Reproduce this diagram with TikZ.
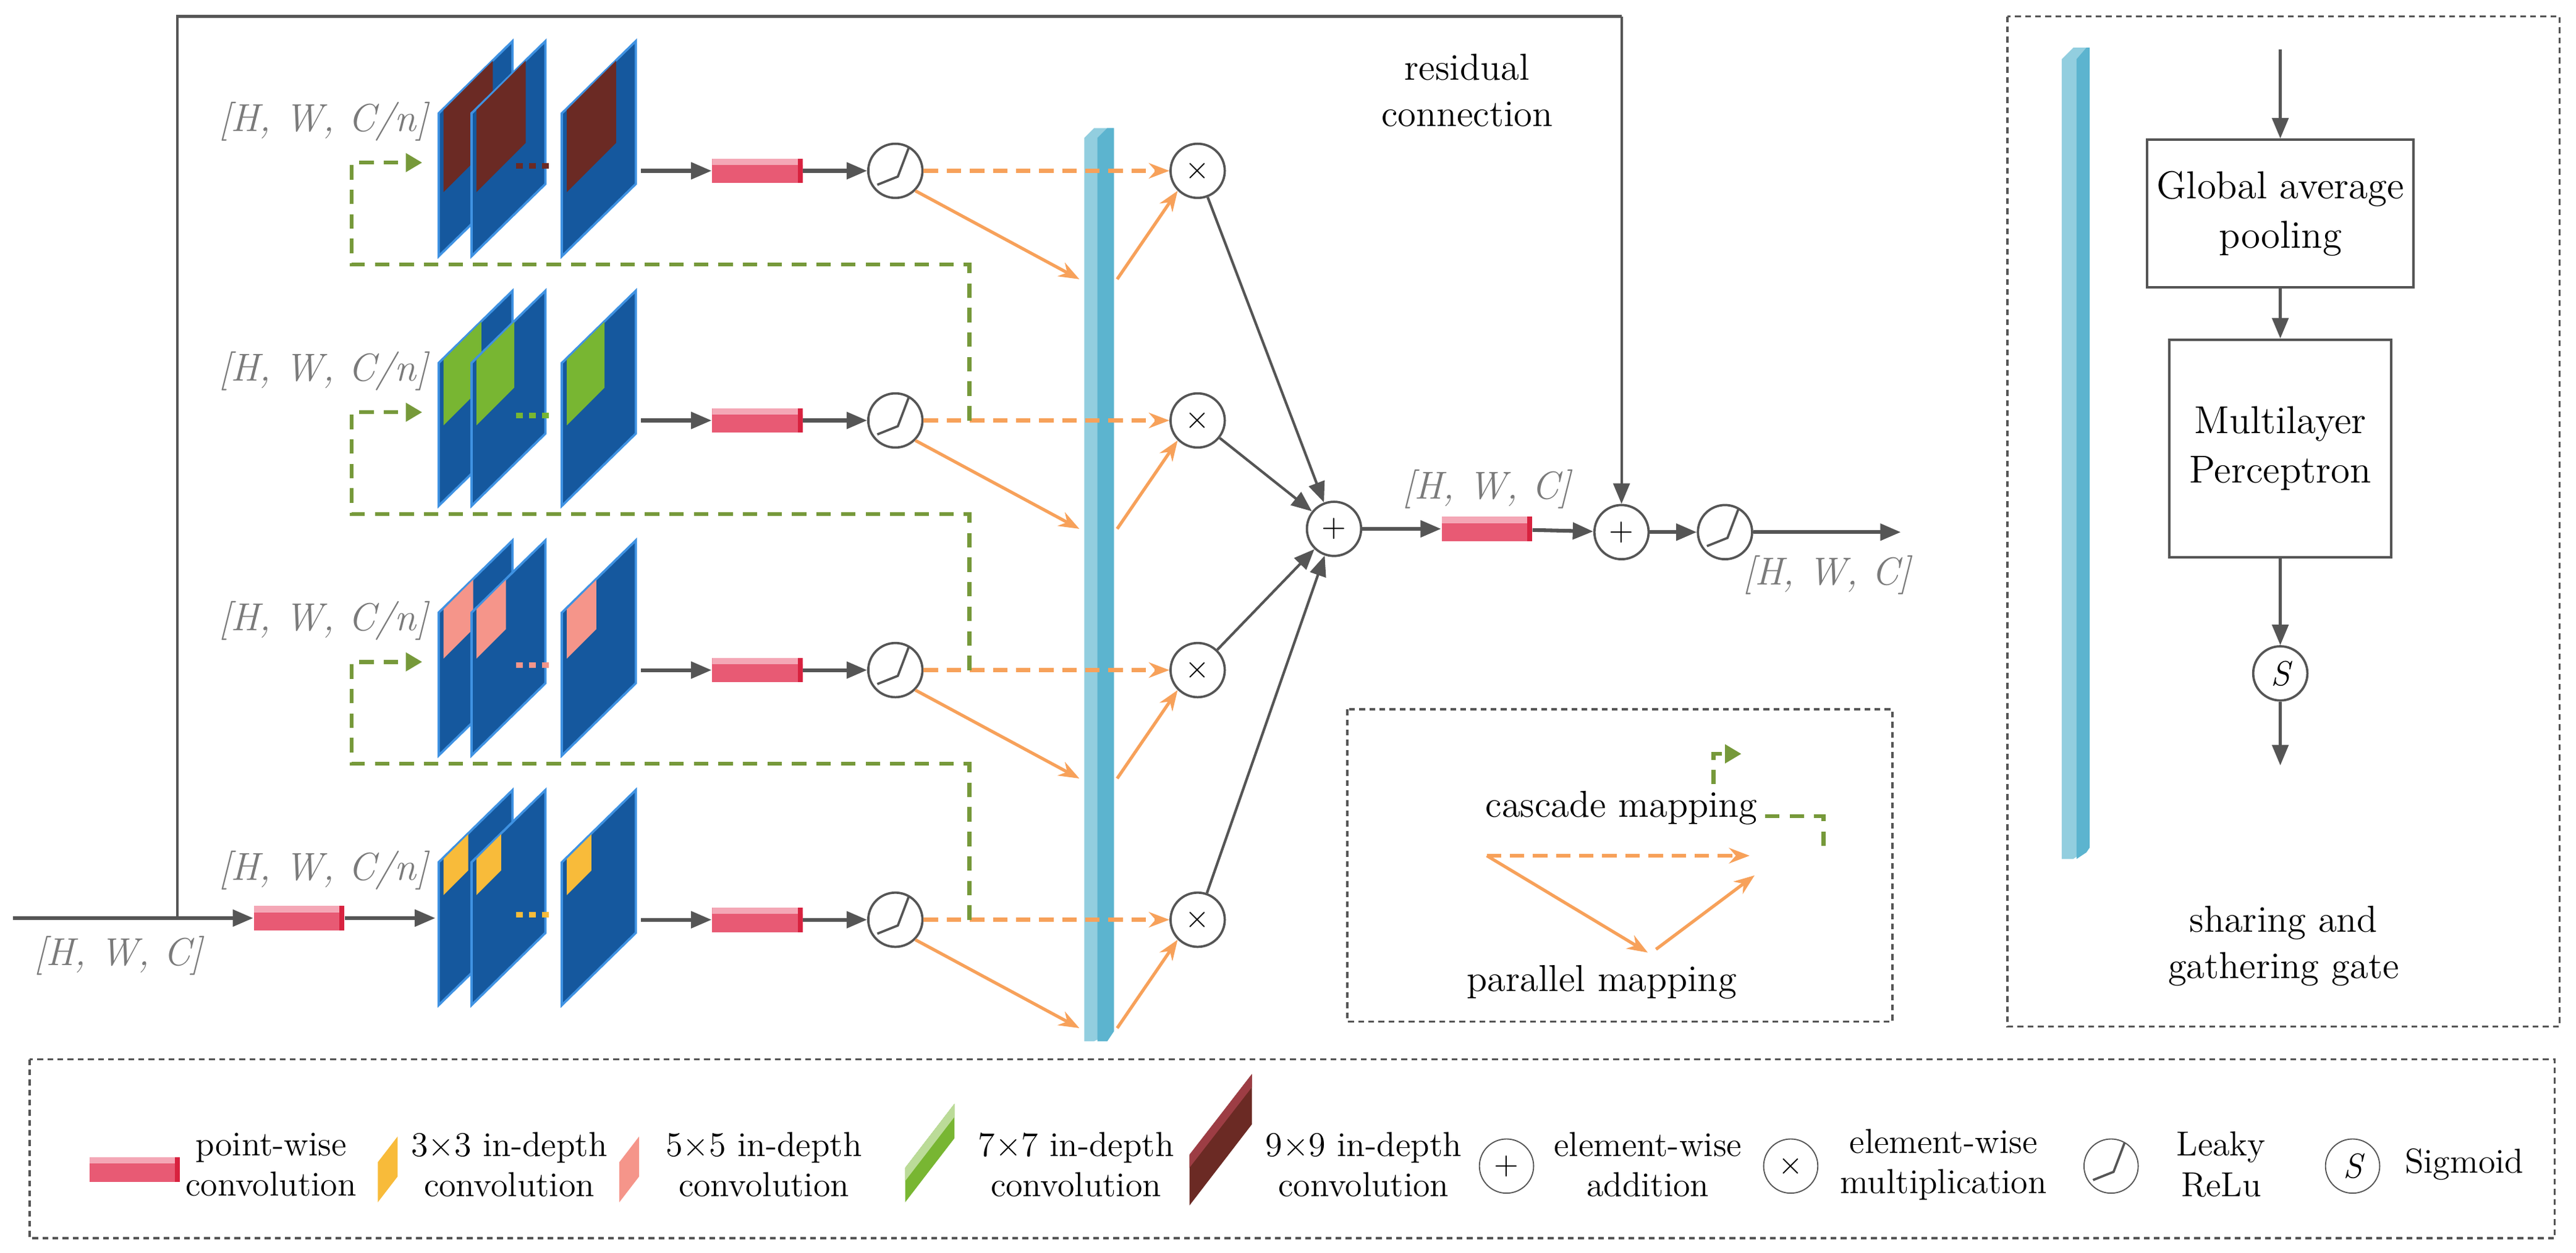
\documentclass[tikz,border=0pt]{standalone}
\usetikzlibrary{arrows.meta}
\definecolor{mapblue}{HTML}{15589E}
\definecolor{mapedge}{HTML}{3F92E2}
\definecolor{pwpink}{HTML}{E85A74}
\definecolor{pwlight}{HTML}{F4A7B6}
\definecolor{pwdark}{HTML}{D8223F}
\definecolor{barblue}{HTML}{92CEDF}
\definecolor{bardark}{HTML}{5CB4CF}
\definecolor{cbrown}{HTML}{6B2A24}
\definecolor{cgreen}{HTML}{78B632}
\definecolor{csalmon}{HTML}{F5958A}
\definecolor{cyellow}{HTML}{F8BB3A}
\definecolor{corange}{HTML}{F7A15A}
\definecolor{cdash}{HTML}{76993A}
\definecolor{lgray}{HTML}{555555}
\definecolor{lblgray}{HTML}{7A7A7A}
\tikzset{
  txt/.style={font=\fontsize{13}{16}\selectfont, align=center},
  legtxt/.style={font=\fontsize{12}{14}\selectfont, align=center},
  dimlbl/.style={font=\fontsize{13.5}{15}\selectfont\itshape, text=lblgray},
  pw/.style={rectangle, inner sep=0pt, minimum width=1.1cm, minimum height=0.3cm, fill=pwpink,
    path picture={\fill[pwlight] (path picture bounding box.north west) rectangle ([yshift=-0.08cm]path picture bounding box.north east);
                  \fill[pwdark] ([xshift=-0.06cm]path picture bounding box.south east) rectangle (path picture bounding box.north east);}},
  op/.style={circle, draw=lgray, thick, fill=white, minimum size=0.66cm, inner sep=0pt, font=\fontsize{11}{12}\selectfont},
  lrelu/.style={op, path picture={\draw[lgray, thick] ([shift={(-0.22cm,-0.17cm)}]path picture bounding box.center) -- ([shift={(0.03cm,-0.07cm)}]path picture bounding box.center) -- ([shift={(0.17cm,0.3cm)}]path picture bounding box.center);}},
  ar/.style={draw=lgray, line width=1.3pt, -{Triangle[length=2.5mm,width=2mm]}},
  thinar/.style={draw=lgray, line width=0.9pt, -{Triangle[length=2.5mm,width=2mm]}},
  oar/.style={draw=corange, line width=1.1pt, -{Stealth[length=2.5mm]}},
  odash/.style={oar, dash pattern=on 5pt off 3pt, line width=1.4pt},
  gdash/.style={draw=cdash, line width=1.4pt, dash pattern=on 5pt off 3.5pt},
  gbox/.style={draw=lgray, thick, dash pattern=on 2pt off 1.5pt},
  blockbox/.style={draw=lgray, thick, fill=white, minimum width=2.7cm, align=center, font=\fontsize{13.5}{17}\selectfont},
}
\newcommand\fmap[2]{% x, arrow y
  \filldraw[fill=mapblue, draw=mapedge, line width=0.8pt] (#1,#2+52) -- (#1,#2-35) -- (#1+45,#2-79) -- (#1+45,#2+8) -- cycle;}
\newcommand\fpatch[5]{% x, y, w, h, colour
  \fill[#5] (#1+3,#2-37+#4) -- (#1+3,#2-37) -- (#1+3+#3,#2-37-#3) -- (#1+3+#3,#2-37-#3+#4) -- cycle;}
\newcommand\legpar[5]{% x, w, ytop, ybot, colour
  \fill[#5] (#1,#4) -- (#1,#3+1.3*#2) -- (#1+#2,#3) -- (#1+#2,#4-1.3*#2) -- cycle;}
\begin{document}
\begin{tikzpicture}[x=0.02cm, y=-0.02cm]
\useasboundingbox (0,0) rectangle (1568,762.6);

% input and residual
\coordinate (in) at (8,559);
\coordinate (j) at (108,559);
\coordinate (tl) at (108,10);
\coordinate (tr) at (987,10);
\node[pw] (pwin) at (182,559) {};
\node[dimlbl] at (72,582) {[H, W, C]};
\draw[ar] (in) -- (pwin);
\draw[lgray, line width=1pt] (j) -- (tl) -- (tr);

% bar
\fill[barblue] (660,84) -- (666,78) -- (678,78) -- (678,628) -- (666,634) -- (660,634) -- cycle;
\fill[bardark] (668,84) -- (674,78) -- (678,78) -- (678,628) -- (674,634) -- (668,634) -- cycle;

% branches
\foreach \k/\pc/\w/\h in {0/cbrown/30/50, 1/cgreen/23/40, 2/csalmon/18/30, 3/cyellow/15/22}{
  \pgfmathsetmacro\yy{104+152*\k}
  \fmap{267}{\yy} \fpatch{267}{\yy}{\w}{\h}{\pc}
  \fmap{287}{\yy} \fpatch{287}{\yy}{\w}{\h}{\pc}
  \draw[\pc, line width=2pt, dash pattern=on 2.5pt off 2pt] (314,\yy-3) -- (334,\yy-3);
  \fmap{342}{\yy} \fpatch{342}{\yy}{\w}{\h}{\pc}
  \coordinate (m\k) at (390,\yy);
  \node[pw] (pw\k) at (461,\yy) {};
  \node[lrelu] (lr\k) at (545,\yy) {};
  \node[op] (mu\k) at (729,\yy) {$\times$};
  \coordinate (bl\k) at (657,\yy+66);
  \coordinate (br\k) at (680,\yy+66);
  \node[dimlbl] at (197,\yy-30) {[H, W, C/n]};
  \draw[ar] (m\k) -- (pw\k);
  \draw[ar] (pw\k) -- (lr\k);
  \draw[odash] (lr\k) -- (mu\k);
  \draw[oar] (lr\k.south east) -- (bl\k);
  \draw[oar] (br\k) -- (mu\k.south west);
}
\coordinate (m4in) at (265,559);
\draw[ar] (pwin) -- (m4in);

% cascade mappings
\foreach \k/\n in {0/1,1/2,2/3}{
  \pgfmathsetmacro\yy{104+152*\k}
  \pgfmathsetmacro\yn{104+152*\n}
  \coordinate (cs\k) at (590,\yn);
  \coordinate (ce\k) at (257,\yy-5);
  \draw[gdash, -{Triangle[length=2mm,width=2.2mm]}] (cs\k) -- (590,\yy+57) -- (214,\yy+57) -- (214,\yy-5) -- (ce\k);
}

% merge
\node[op] (add1) at (812,322) {$+$};
\foreach \k in {0,...,3}{\draw[thinar] (mu\k) -- (add1);}
\node[pw] (pwout) at (905,322) {};
\node[op] (add2) at (987,324) {$+$};
\node[lrelu] (lrout) at (1050,324) {};
\coordinate (out) at (1157,324);
\draw[ar] (add1) -- (pwout);
\draw[ar] (pwout) -- (add2);
\draw[thinar] (tr) -- (add2);
\draw[ar] (add2) -- (lrout);
\draw[ar] (lrout) -- (out);
\node[dimlbl] at (905,298) {[H, W, C]};
\node[dimlbl] at (1112,350) {[H, W, C]};
\node[txt] at (893,55) {residual\\connection};

% mapping legend box
\draw[gbox] (820,432) rectangle (1152,622);
\coordinate (cm0) at (1110,515);
\coordinate (cm1) at (1060,459);
\draw[gdash, -{Triangle[length=2mm,width=2.2mm]}] (cm0) -- (1110,497) -- (1043,497) -- (1043,459) -- (cm1);
\node[txt, fill=white, inner sep=1pt] at (987,492) {cascade mapping};
\coordinate (pm0) at (905,521);
\coordinate (pm1) at (1065,521);
\coordinate (pm2) at (1003,580);
\coordinate (pm3) at (1068,533);
\draw[odash] (pm0) -- (pm1);
\draw[oar] (pm0) -- (pm2);
\draw[oar] (1008,578) -- (pm3);
\node[txt] at (975,598) {parallel mapping};

% sharing and gathering gate box
\draw[gbox] (1222,10) rectangle (1558,625);
\fill[barblue] (1255,36) -- (1262,29) -- (1272,29) -- (1272,516) -- (1262,523) -- (1255,523) -- cycle;
\fill[bardark] (1264,36) -- (1270,29) -- (1272,29) -- (1272,516) -- (1270,519) -- (1264,523) -- cycle;
\coordinate (g0) at (1388,30);
\node[blockbox, minimum height=1.8cm] (gap) at (1388,130) {Global average\\pooling};
\node[blockbox, minimum height=2.65cm] (mlp) at (1388,273) {Multilayer\\Perceptron};
\node[op, font=\fontsize{12}{12}\selectfont\itshape] (sig) at (1388,410) {S};
\coordinate (g1) at (1388,466);
\draw[thinar] (g0) -- (gap);
\draw[thinar] (gap) -- (mlp);
\draw[thinar] (mlp) -- (sig);
\draw[thinar] (sig) -- (g1);
\node[txt] at (1390,576) {sharing and\\gathering gate};

% bottom legend
\draw[gbox] (18,645) rectangle (1555,754);
\node[pw] (lpw) at (82,712) {};
\node[legtxt] at (165,709) {point-wise\\convolution};
\legpar{230}{12}{692}{732}{cyellow}
\node[legtxt] at (310,709) {3×3 in-depth\\convolution};
\legpar{377}{12}{692}{732}{csalmon}
\node[legtxt] at (465,709) {5×5 in-depth\\convolution};
\legpar{551}{30}{672}{732}{cgreen}
\fill[cgreen!50!white] (551,672+39) -- (581,672) -- (581,680) -- (551,680+39) -- cycle;
\node[legtxt] at (655,709) {7×7 in-depth\\convolution};
\legpar{724}{38}{654}{734}{cbrown}
\fill[cbrown!60!pwpink] (724,654+49) -- (762,654) -- (762,662) -- (724,662+49) -- cycle;
\node[legtxt] at (830,709) {9×9 in-depth\\convolution};
\node[op, thin] (ladd) at (917,710) {$+$};
\node[legtxt] at (1003,709) {element-wise\\addition};
\node[op, thin] (lmul) at (1090,710) {$\times$};
\node[legtxt] at (1183,709) {element-wise\\multiplication};
\node[lrelu, thin] (llr) at (1285,710) {};
\node[legtxt] at (1352,709) {Leaky\\ReLu};
\node[op, thin, font=\fontsize{12}{12}\selectfont\itshape] (lsig) at (1432,710) {S};
\node[legtxt] at (1500,709) {Sigmoid};
\end{tikzpicture}
\end{document}
